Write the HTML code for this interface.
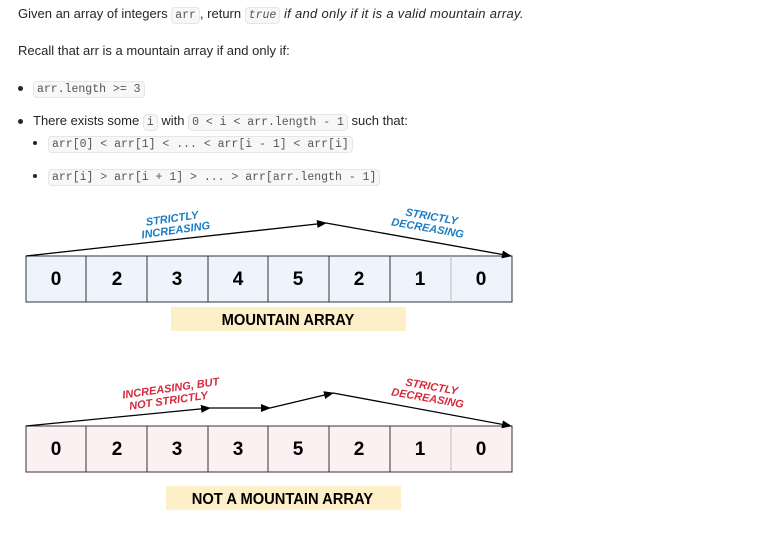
<!DOCTYPE html>
<html><head><meta charset="utf-8"><style>
body{margin:0;width:769px;height:549px;background:#fff;font-family:"Liberation Sans",sans-serif;color:#262626;position:relative;overflow:hidden}
.t{position:absolute;font-size:13px;white-space:nowrap;line-height:18px}
code{font-family:"Liberation Mono",monospace;font-size:11.5px;color:#555;background:#f7f7f8;border:1px solid #e6e6e6;border-radius:4px;padding:1px 3px}
.dot{position:absolute;width:5px;height:5px;border-radius:50%;background:#262626}
svg{position:absolute;left:0;top:0}
</style></head><body>
<div class="t" style="left:18px;top:5px">Given an array of integers <code>arr</code>, return <code><i>true</i></code> <i style="letter-spacing:0.3px">if and only if it is a valid mountain array.</i></div>
<div class="t" style="left:18px;top:42px">Recall that arr is a mountain array if and only if:</div>
<div class="dot" style="left:18px;top:86px"></div>
<div class="t" style="left:33px;top:79px"><code>arr.length &gt;= 3</code></div>
<div class="dot" style="left:18px;top:119px"></div>
<div class="t" style="left:33px;top:112px">There exists some <code>i</code> with <code>0 &lt; i &lt; arr.length - 1</code> such that:</div>
<div class="dot" style="left:33px;top:141px;width:4px;height:4px"></div>
<div class="t" style="left:48px;top:134px"><code>arr[0] &lt; arr[1] &lt; ... &lt; arr[i - 1] &lt; arr[i] </code></div>
<div class="dot" style="left:33px;top:174px;width:4px;height:4px"></div>
<div class="t" style="left:48px;top:167px"><code>arr[i] &gt; arr[i + 1] &gt; ... &gt; arr[arr.length - 1]</code></div>
<svg width="769" height="549">
<defs><marker id="a" markerWidth="10" markerHeight="8" refX="9" refY="4" orient="auto" markerUnits="userSpaceOnUse"><path d="M0,0L10,4L0,8z" fill="#000"/></marker></defs>
<g font-family="Liberation Sans" font-weight="bold" font-size="19" text-anchor="middle">
<rect x="26" y="256" width="486" height="46" fill="#edf4fc" stroke="#333"/>
<g stroke="#333"><line x1="86" y1="256" x2="86" y2="302"/><line x1="147" y1="256" x2="147" y2="302"/><line x1="208" y1="256" x2="208" y2="302"/><line x1="268" y1="256" x2="268" y2="302"/><line x1="329" y1="256" x2="329" y2="302"/><line x1="390" y1="256" x2="390" y2="302"/><line x1="451" y1="256" x2="451" y2="302" stroke="#bbb"/></g>
<text x="56" y="285">0</text><text x="117" y="285">2</text><text x="177" y="285">3</text><text x="238" y="285">4</text><text x="298" y="285">5</text><text x="359" y="285">2</text><text x="420" y="285">1</text><text x="481" y="285">0</text>
<rect x="26" y="426" width="486" height="46" fill="#fcf0f2" stroke="#333"/>
<g stroke="#333"><line x1="86" y1="426" x2="86" y2="472"/><line x1="147" y1="426" x2="147" y2="472"/><line x1="208" y1="426" x2="208" y2="472"/><line x1="268" y1="426" x2="268" y2="472"/><line x1="329" y1="426" x2="329" y2="472"/><line x1="390" y1="426" x2="390" y2="472"/><line x1="451" y1="426" x2="451" y2="472" stroke="#bbb"/></g>
<text x="56" y="455">0</text><text x="117" y="455">2</text><text x="177" y="455">3</text><text x="238" y="455">3</text><text x="298" y="455">5</text><text x="359" y="455">2</text><text x="420" y="455">1</text><text x="481" y="455">0</text>
</g>
<g stroke="#000" stroke-width="1.3" fill="none">
<line x1="26" y1="256" x2="326" y2="223" marker-end="url(#a)"/>
<line x1="326" y1="223" x2="511" y2="256" marker-end="url(#a)"/>
<line x1="26" y1="426" x2="210" y2="408" marker-end="url(#a)"/>
<line x1="210" y1="408" x2="270" y2="408" marker-end="url(#a)"/>
<line x1="270" y1="408" x2="333" y2="393" marker-end="url(#a)"/>
<line x1="333" y1="393" x2="511" y2="426" marker-end="url(#a)"/>
</g>
<rect x="171" y="307" width="235" height="24" fill="#fdefc8"/>
<rect x="166" y="486" width="235" height="24" fill="#fdefc8"/>
<g font-family="Liberation Sans" font-size="16" font-weight="bold" fill="#000" text-anchor="middle">
<text x="288" y="325" transform="scale(0.92,1) translate(25,0)">MOUNTAIN ARRAY</text>
<text x="283" y="504" transform="scale(0.92,1) translate(24,0)">NOT A MOUNTAIN ARRAY</text>
</g>
<g font-family="Liberation Sans" font-size="11" font-weight="bold" font-style="italic" text-anchor="middle">
<g fill="#1a7dc4" transform="rotate(-8 173 225)"><text x="173" y="222">STRICTLY</text><text x="175" y="234">INCREASING</text></g>
<g fill="#1a7dc4" transform="rotate(10 430 226)"><text x="430" y="220">STRICTLY</text><text x="428" y="232">DECREASING</text></g>
<g fill="#d8283c" transform="rotate(-8 170 397)"><text x="172" y="392">INCREASING, BUT</text><text x="168" y="404">NOT STRICTLY</text></g>
<g fill="#d8283c" transform="rotate(10 430 396)"><text x="430" y="390">STRICTLY</text><text x="428" y="402">DECREASING</text></g>
</g>
</svg>
</body></html>
